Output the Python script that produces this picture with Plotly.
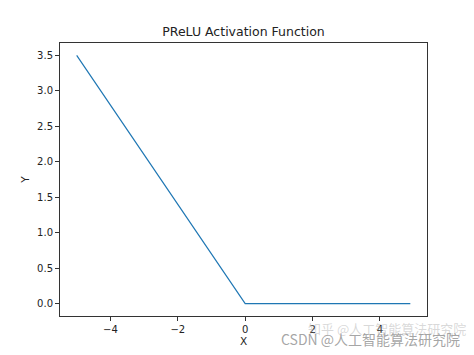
import plotly.graph_objects as go

# Data
x_vals = [-5.0, 0.0, 4.9]
y_vals = [3.5, 0.0, 0.0]

x_tickvals = [-4, -2, 0, 2, 4]
x_ticktext = ["\u22124", "\u22122", "0", "2", "4"]
y_tickvals = [0.0, 0.5, 1.0, 1.5, 2.0, 2.5, 3.0, 3.5]
y_ticktext = ["0.0", "0.5", "1.0", "1.5", "2.0", "2.5", "3.0", "3.5"]

title_text = "PReLU Activation Function"
x_label = "X"
y_label = "Y"
watermark_main = "CSDN @人工智能算法研究院"
watermark_faint = "知乎 @人工智能算法研究院"

FONT = "DejaVu Sans"

fig = go.Figure()
fig.add_trace(go.Scatter(
    x=x_vals, y=y_vals, mode="lines",
    line=dict(color="#1f77b4", width=1.2),
    showlegend=False, hoverinfo="skip",
))

axis_common = dict(
    showgrid=False, zeroline=False,
    showline=True, linecolor="#333333", linewidth=1, mirror=True,
    ticks="outside", ticklen=4, tickwidth=1, tickcolor="#333333",
    tickfont=dict(family=FONT, size=10, color="#222222"),
)

fig.update_layout(
    width=474, height=355,
    margin=dict(l=60, r=47, t=43, b=39),
    paper_bgcolor="white", plot_bgcolor="white",
    font=dict(family=FONT, color="#222222"),
    title=dict(text=title_text, x=(60 + 427) / 2 / 474, xanchor="center",
               y=1 - 32 / 355, yanchor="middle", yref="container",
               font=dict(family=FONT, size=12.5, color="#222222")),
    xaxis=dict(range=[-5.495, 5.395], tickmode="array",
               tickvals=x_tickvals, ticktext=x_ticktext,
               title=dict(text=x_label, standoff=2,
                          font=dict(family=FONT, size=10.5, color="#222222")),
               **axis_common),
    yaxis=dict(range=[-0.175, 3.675], tickmode="array",
               tickvals=y_tickvals, ticktext=y_ticktext,
               title=dict(text=y_label, standoff=5,
                          font=dict(family=FONT, size=10.5, color="#222222")),
               **axis_common),
)

fig.add_annotation(
    text=watermark_faint, xref="paper", yref="paper",
    x=(387 - 60) / 367, y=-(328 - 316) / 273, xanchor="center", yanchor="middle",
    showarrow=False, font=dict(family="Noto Sans CJK SC", size=13, color="rgba(170,170,170,0.45)"),
)
fig.add_annotation(
    text=watermark_main, xref="paper", yref="paper",
    x=(370 - 60) / 367, y=-(339 - 316) / 273, xanchor="center", yanchor="middle",
    showarrow=False, font=dict(family="Noto Sans CJK SC", size=14, color="rgba(150,150,150,0.85)"),
)

fig.write_html("out.html")
